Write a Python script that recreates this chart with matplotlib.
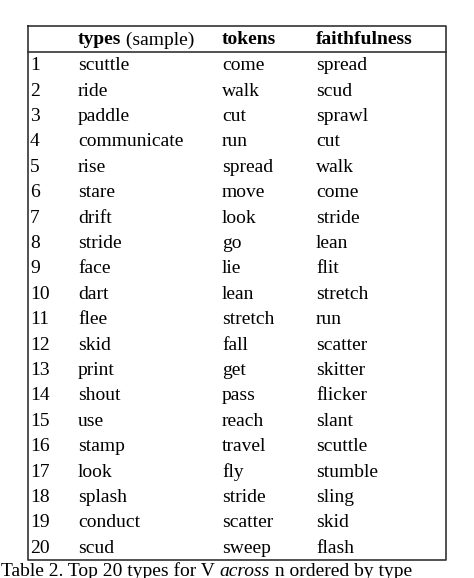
import matplotlib.pyplot as plt

ranks = [str(i) for i in range(1, 21)]
types = ["scuttle", "ride", "paddle", "communicate", "rise", "stare", "drift", "stride",
         "face", "dart", "flee", "skid", "print", "shout", "use", "stamp", "look",
         "splash", "conduct", "scud"]
tokens = ["come", "walk", "cut", "run", "spread", "move", "look", "go", "lie", "lean",
          "stretch", "fall", "get", "pass", "reach", "travel", "fly", "stride",
          "scatter", "sweep"]
faith = ["spread", "scud", "sprawl", "cut", "walk", "come", "stride", "lean", "flit",
         "stretch", "run", "scatter", "skitter", "flicker", "slant", "scuttle",
         "stumble", "sling", "skid", "flash"]

plt.rcParams['font.family'] = ['Liberation Serif', 'DejaVu Serif']
fig = plt.figure(figsize=(4.74, 5.78), dpi=100)
ax = fig.add_axes([0, 0, 1, 1])
ax.set_xlim(0, 474)
ax.set_ylim(578, 0)
ax.axis('off')

fs = 14
left, right, top, bottom = 28, 446, 26, 560
header_h = 26
row_h = (bottom - top - header_h) / 20

ax.plot([left, right, right, left, left], [top, top, bottom, bottom, top], color='#333333', lw=1.2)
ax.plot([left, right], [top + header_h, top + header_h], color='#333333', lw=1.2)

renderer = fig.canvas.get_renderer()


def chain(x, y, parts):
    # draw text pieces one after another, measuring each
    for s, kw in parts:
        t = ax.text(x, y, s, fontsize=fs, va='center', **kw)
        bb = t.get_window_extent(renderer)
        x += bb.width


hy = top + header_h / 2 + 1
chain(78, hy, [("types", {'fontweight': 'bold'}), (" (sample)", {})])
ax.text(222, hy, "tokens", fontsize=fs, fontweight='bold', va='center')
ax.text(316, hy, "faithfulness", fontsize=fs, fontweight='bold', va='center')

for i in range(20):
    y = top + header_h + row_h * (i + 0.5) + 1
    ax.text(30, y, ranks[i], fontsize=fs, va='center')
    ax.text(78, y, types[i], fontsize=fs, va='center')
    ax.text(222, y, tokens[i], fontsize=fs, va='center')
    ax.text(316, y, faith[i], fontsize=fs, va='center')

chain(1, 571, [("Table 2. Top 20 types for V ", {}), ("across", {'style': 'italic'}),
               (" n ordered by type", {})])

fig.savefig("out.png", dpi=100)
